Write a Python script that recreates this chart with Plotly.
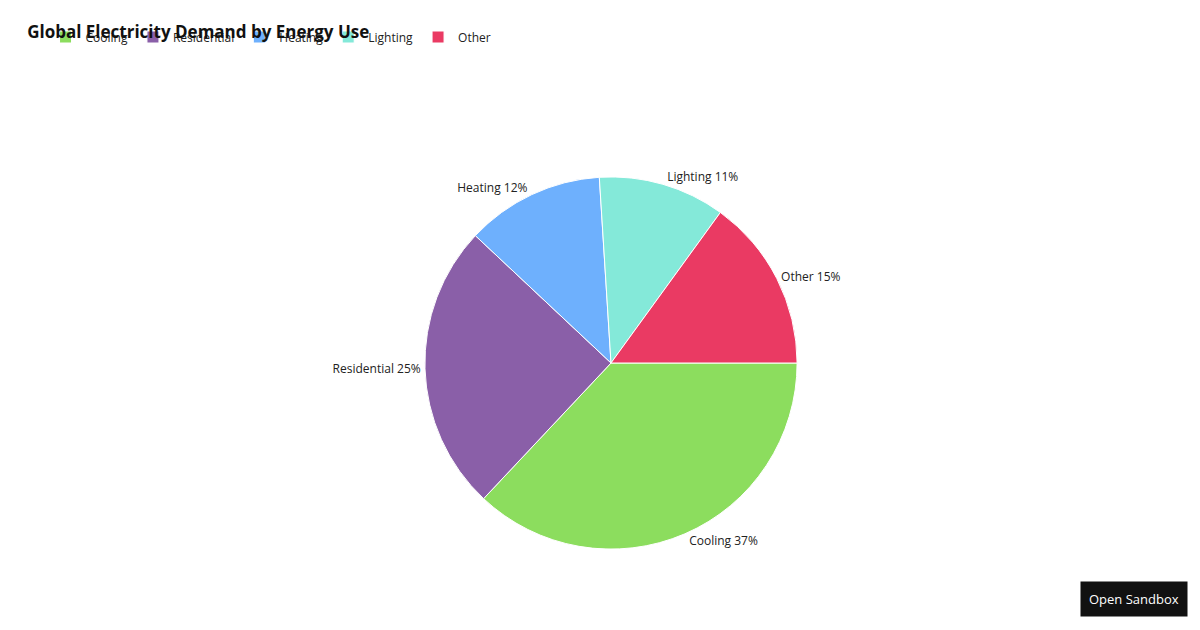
import plotly.graph_objects as go

# data
labels = ["Cooling", "Residential", "Heating", "Lighting", "Other"]
values = [37, 25, 12, 11, 15]
colors = ["#8cdd5e", "#8a5fa8", "#6eb0fd", "#84e9d9", "#ea3a63"]

fig = go.Figure(
    go.Pie(
        labels=labels,
        values=values,
        marker=dict(colors=colors, line=dict(color="white", width=1)),
        sort=False,
        direction="clockwise",
        rotation=90,
        textposition="outside",
        texttemplate="%{label} %{value}%",
        textfont=dict(family="Open Sans", size=12, color="#222"),
        hoverinfo="label+percent",
        domain=dict(x=[0.2, 0.8], y=[0.0745, 0.8925]),
    )
)

fig.update_layout(
    width=1200,
    height=630,
    paper_bgcolor="white",
    font=dict(family="Open Sans", color="#222"),
    title=dict(
        text="<b>Global Electricity Demand by Energy Use</b>",
        x=0.016,
        y=1 - 24 / 630,
        xanchor="left",
        yanchor="middle",
        font=dict(size=17, color="#111"),
    ),
    legend=dict(
        orientation="h",
        x=0.01,
        y=1.2,
        xanchor="left",
        yanchor="middle",
        font=dict(size=12),
    ),
    margin=dict(l=20, r=20, t=120, b=55),
    annotations=[
        dict(
            text="Open Sandbox",
            xref="paper",
            yref="paper",
            x=1.0,
            y=-0.075,
            xanchor="right",
            yanchor="bottom",
            showarrow=False,
            bgcolor="#111",
            borderpad=8,
            font=dict(color="white", size=13),
        )
    ],
)

fig.write_html("out.html")
